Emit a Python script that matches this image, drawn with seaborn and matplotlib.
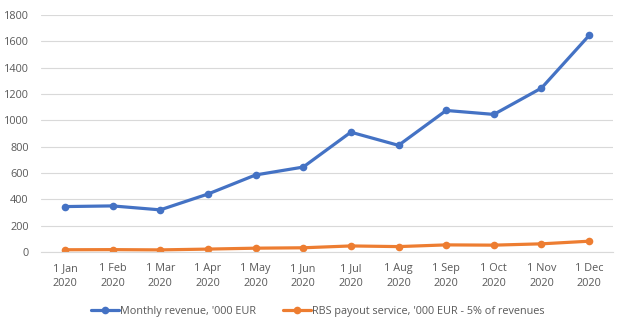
import numpy as np
import pandas as pd
import matplotlib
matplotlib.use('Agg')
import matplotlib.pyplot as plt
import seaborn as sns

months = ['1 Jan\n2020', '1 Feb\n2020', '1 Mar\n2020', '1 Apr\n2020', '1 May\n2020', '1 Jun\n2020',
          '1 Jul\n2020', '1 Aug\n2020', '1 Sep\n2020', '1 Oct\n2020', '1 Nov\n2020', '1 Dec\n2020']
revenue = [345, 350, 320, 440, 585, 645, 910, 810, 1075, 1045, 1245, 1645]
payout = [17, 18, 16, 22, 29, 32, 46, 41, 54, 52, 62, 82]
series_names = ["Monthly revenue, '000 EUR", "RBS payout service, '000 EUR - 5% of revenues"]
colors = ['#4472C4', '#ED7D31']

df = pd.DataFrame({
    'month': months * 2,
    'value': revenue + payout,
    'series': [series_names[0]] * len(months) + [series_names[1]] * len(months),
})
df['pos'] = list(range(len(months))) * 2

sns.set_style('white')
plt.rcParams['font.family'] = ['Open Sans', 'DejaVu Sans']

fig = plt.figure(figsize=(6.22, 3.26), dpi=100)
ax = fig.add_axes([0.066, 0.227, 0.9195, 0.727])

sns.lineplot(data=df, x='pos', y='value', hue='series', palette=colors, marker='o',
             markersize=5.5, markeredgewidth=0, linewidth=2.3, ax=ax)

ax.set_xlim(-0.5, len(months) - 0.5)
ax.set_ylim(0, 1800)
ax.set_yticks(range(0, 1801, 200))
ax.set_xticks(range(len(months)))
ax.set_xticklabels(months, linespacing=1.45)
ax.set_xticks(np.arange(-0.5, len(months), 1), minor=True)
ax.tick_params(axis='x', which='major', length=0, pad=8, labelsize=7.8, colors='#595959')
ax.tick_params(axis='x', which='minor', length=4, color='#D9D9D9', width=0.8)
ax.tick_params(axis='y', length=0, pad=9, labelsize=7.8, colors='#595959')
ax.yaxis.grid(True, color='#D9D9D9', linewidth=0.8)
ax.set_axisbelow(True)
for s in ['left', 'right', 'top']:
    ax.spines[s].set_visible(False)
ax.spines['bottom'].set_color('#D9D9D9')
ax.spines['bottom'].set_linewidth(0.8)
ax.set_xlabel('')
ax.set_ylabel('')

ax.legend(loc='center', bbox_to_anchor=(0.484, -0.25), ncol=2, frameon=False,
          fontsize=7.8, handlelength=2.6, handletextpad=0.1, columnspacing=2.5,
          labelcolor='#595959')

plt.savefig('out.png', dpi=100)
